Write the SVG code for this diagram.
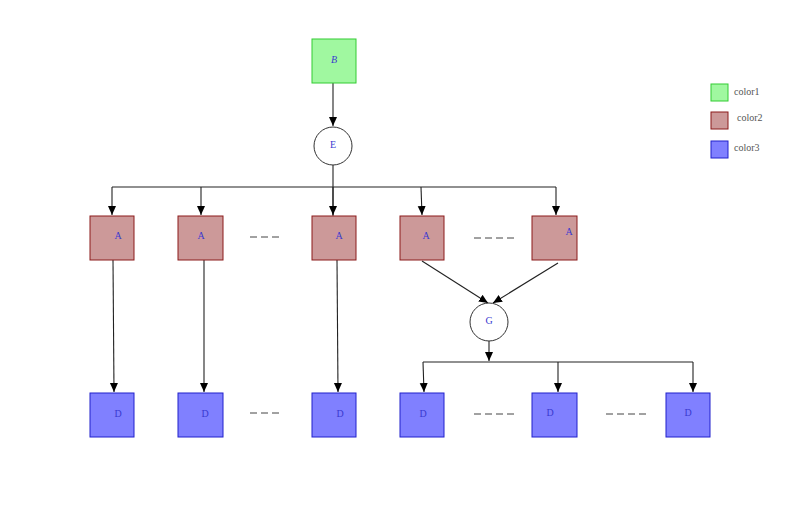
<svg xmlns="http://www.w3.org/2000/svg" width="800" height="506" viewBox="0 0 800 506">
<style>
text{font-family:"Liberation Serif",serif;font-size:10px;fill:#3a3ad0;text-anchor:middle;dominant-baseline:middle}
.g{fill:#a0f8a0;stroke:#33cc33}
.a{fill:#cc9999;stroke:#8b1a1a}
.d{fill:#8080ff;stroke:#2020cc}
.c{fill:#fff;stroke:#333}
.l{stroke:#222;stroke-width:1.1;fill:none}
.da{stroke:#444;stroke-width:1;stroke-dasharray:7,4}
.lg{font-size:10px;fill:#555;text-anchor:start}
</style>
<defs><marker id="ar" markerWidth="10" markerHeight="10" refX="9" refY="4" orient="auto" markerUnits="userSpaceOnUse"><path d="M0,0L9,4L0,8z" fill="#000"/></marker></defs>
<g id="connectors">
<path class="l" d="M333,83V126" marker-end="url(#ar)"/>
<path class="l" d="M333,165V216"/>
<path class="l" d="M112,187H556"/>
<path class="l" d="M112,187V215" marker-end="url(#ar)"/>
<path class="l" d="M201,187V215" marker-end="url(#ar)"/>
<path class="l" d="M333,187V215" marker-end="url(#ar)"/>
<path class="l" d="M421,187L422,215" marker-end="url(#ar)"/>
<path class="l" d="M556,187V215" marker-end="url(#ar)"/>
<path class="l" d="M113,260L114,392" marker-end="url(#ar)"/>
<path class="l" d="M204,260V392" marker-end="url(#ar)"/>
<path class="l" d="M337,260L338,392" marker-end="url(#ar)"/>
<path class="l" d="M422,261L488,303" marker-end="url(#ar)"/>
<path class="l" d="M558,263L493,303" marker-end="url(#ar)"/>
<path class="l" d="M489,341V361" marker-end="url(#ar)"/>
<path class="l" d="M423,362H693"/>
<path class="l" d="M423,362L424,392" marker-end="url(#ar)"/>
<path class="l" d="M558,362V392" marker-end="url(#ar)"/>
<path class="l" d="M693,362V392" marker-end="url(#ar)"/>
<path class="da" d="M250,237H283M474,238H516M250,413H283M474,414H514M606,414H649"/>
</g>
<g id="B"><rect class="g" x="312" y="39" width="44" height="44"/><text x="334" y="61" font-style="italic">B</text></g>
<g id="E"><circle class="c" cx="333" cy="146" r="19"/><text x="333" y="146">E</text></g>
<g id="A1"><rect class="a" x="90" y="216" width="44" height="44"/><text x="118" y="237">A</text></g>
<g id="A2"><rect class="a" x="178" y="216" width="45" height="44"/><text x="201" y="237">A</text></g>
<g id="A3"><rect class="a" x="312" y="216" width="44" height="44"/><text x="339" y="237">A</text></g>
<g id="A4"><rect class="a" x="400" y="216" width="44" height="44"/><text x="426" y="237">A</text></g>
<g id="A5"><rect class="a" x="532" y="216" width="45" height="44"/><text x="569" y="233">A</text></g>
<g id="G"><circle class="c" cx="489" cy="322" r="19"/><text x="489" y="322">G</text></g>
<g id="D1"><rect class="d" x="90" y="393" width="44" height="44"/><text x="118" y="415">D</text></g>
<g id="D2"><rect class="d" x="178" y="393" width="45" height="44"/><text x="205" y="415">D</text></g>
<g id="D3"><rect class="d" x="312" y="393" width="44" height="44"/><text x="340" y="415">D</text></g>
<g id="D4"><rect class="d" x="400" y="393" width="44" height="44"/><text x="423" y="415">D</text></g>
<g id="D5"><rect class="d" x="532" y="393" width="45" height="44"/><text x="550" y="414">D</text></g>
<g id="D6"><rect class="d" x="666" y="393" width="44" height="44"/><text x="688" y="414">D</text></g>
<g id="legend">
<rect class="g" x="711" y="84" width="17" height="17" stroke="none"/><text class="lg" x="734" y="93">color1</text>
<rect class="a" x="711" y="112" width="17" height="17" stroke="none"/><text class="lg" x="737" y="119">color2</text>
<rect class="d" x="711" y="141" width="17" height="17" stroke="none" fill="#9999ff"/><text class="lg" x="734" y="149">color3</text>
</g>
</svg>
